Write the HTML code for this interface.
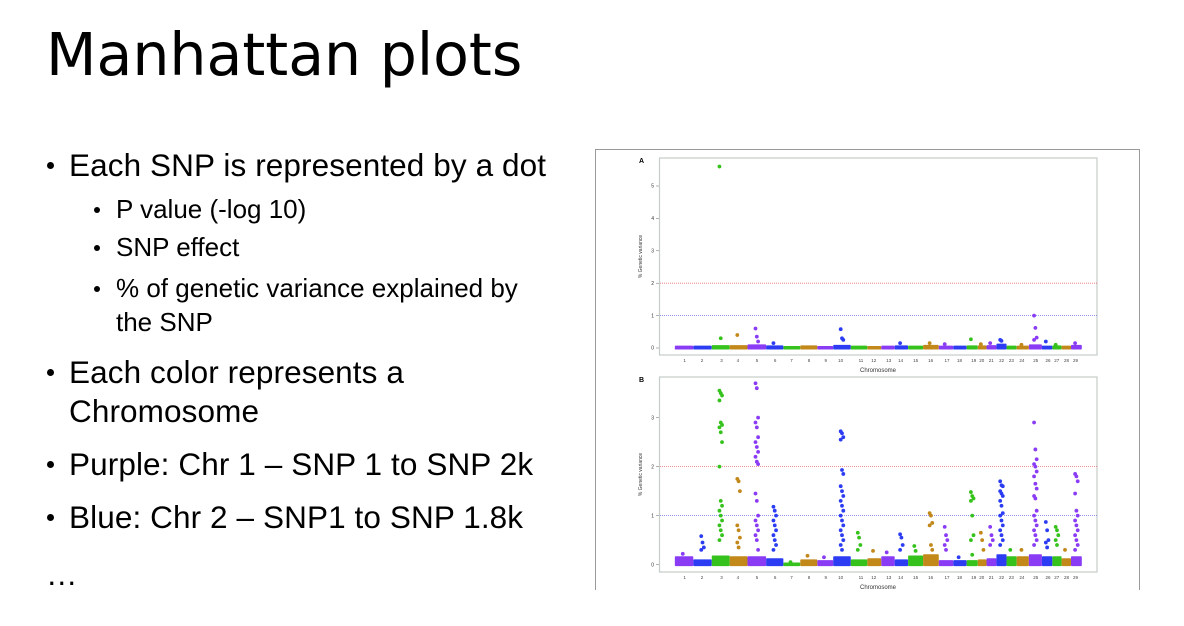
<!DOCTYPE html>
<html><head><meta charset="utf-8">
<style>
body{margin:0;width:1184px;height:626px;background:#fff;position:relative;overflow:hidden;font-family:"Liberation Sans",sans-serif;color:#000}
.t{position:absolute;white-space:nowrap}
#title{left:46px;top:21px;font-family:"DejaVu Sans",sans-serif;font-size:58.5px}
.b1{font-size:31.5px;left:69px;letter-spacing:0.1px}
.b2{font-size:26px;left:116px}
.d1{position:absolute;width:7px;height:7px;border-radius:50%;background:#000}
.d2{position:absolute;width:6px;height:6px;border-radius:50%;background:#000}
svg{position:absolute;left:0;top:0}
</style></head><body>
<div id="title" class="t">Manhattan plots</div>
<div class="d1" style="left:47px;top:162px"></div>
<div class="t b1" style="top:147px">Each SNP is represented by a dot</div>
<div class="d2" style="left:94px;top:207px"></div>
<div class="t b2" style="top:194px">P value (-log 10)</div>
<div class="d2" style="left:94px;top:245px"></div>
<div class="t b2" style="top:232px">SNP effect</div>
<div class="d2" style="left:94px;top:286px"></div>
<div class="t b2" style="top:273px">% of genetic variance explained by</div>
<div class="t b2" style="top:307px">the SNP</div>
<div class="d1" style="left:47px;top:369px"></div>
<div class="t b1" style="top:354px">Each color represents a</div>
<div class="t b1" style="top:393px">Chromosome</div>
<div class="d1" style="left:47px;top:461px"></div>
<div class="t b1" style="top:446px">Purple: Chr 1 – SNP 1 to SNP 2k</div>
<div class="d1" style="left:47px;top:514px"></div>
<div class="t b1" style="top:499px">Blue: Chr 2 – SNP1 to SNP 1.8k</div>
<div class="t b1" style="left:46px;top:556px">…</div>

<svg id="chart" width="1184" height="626"></svg>
<script>
const chromosomes=["1","2","3","4","5","6","7","8","9","10","11","12","13","14","15","16","17","18","19","20","21","22","23","24","25","26","27","28","29"];
const baseA=[0.07,0.07,0.09,0.09,0.12,0.08,0.06,0.08,0.06,0.1,0.07,0.06,0.07,0.08,0.07,0.1,0.07,0.07,0.08,0.08,0.09,0.15,0.07,0.07,0.12,0.07,0.08,0.07,0.1];
const peaksA=[[],[],[5.6,0.3],[0.4],[0.6,0.35,0.2],[0.15],[],[],[],[0.58,0.3,0.25],[],[],[],[0.15],[],[0.15],[0.12],[],[0.27],[0.12],[0.15],[0.25,0.22],[],[0.1],[1.0,0.62,0.32,0.25],[0.2],[0.1],[],[0.15]];
const baseB=[0.2,0.12,0.22,0.2,0.2,0.15,0.04,0.12,0.1,0.2,0.12,0.15,0.2,0.12,0.22,0.25,0.1,0.1,0.1,0.12,0.15,0.25,0.2,0.2,0.25,0.2,0.2,0.15,0.2];
const peaksB=[[0.22],[0.58,0.45,0.35,0.3],[3.55,3.5,3.45,3.35,2.9,2.85,2.8,2.7,2.5,2.0,1.3,1.2,1.1,1.0,0.9,0.8,0.7,0.6,0.5],[1.75,1.7,1.5,0.8,0.7,0.55,0.45,0.35],[3.7,3.6,3.0,2.9,2.8,2.6,2.5,2.4,2.3,2.2,2.1,2.05,1.45,1.3,1.0,0.9,0.8,0.7,0.6,0.5,0.3],[1.18,1.1,1.0,0.9,0.8,0.7,0.6,0.5,0.4,0.3],[0.05],[0.18],[0.15],[2.72,2.68,2.6,2.55,1.93,1.85,1.6,1.5,1.4,1.3,1.2,1.1,1.0,0.9,0.8,0.7,0.6,0.5,0.4,0.3],[0.65,0.55,0.4,0.3],[0.28],[0.25],[0.62,0.55,0.4,0.3],[0.38,0.28],[1.05,1.0,0.85,0.8,0.4,0.3],[0.77,0.6,0.5,0.4,0.3],[0.15],[1.48,1.4,1.35,1.3,1.0,0.6,0.5,0.2],[0.65,0.5,0.3],[0.77,0.6,0.5,0.4],[1.7,1.62,1.6,1.5,1.45,1.4,1.3,1.2,1.05,1.0,0.9,0.8,0.7,0.6,0.5,0.4],[0.3],[0.3],[2.9,2.35,2.15,2.05,2.0,1.9,1.8,1.65,1.55,1.4,1.35,1.1,1.0,0.9,0.8,0.7,0.6,0.5,0.4],[0.87,0.7,0.5,0.45,0.35],[0.77,0.7,0.6,0.5,0.4],[0.3],[1.85,1.8,1.7,1.45,1.1,1.0,0.9,0.8,0.7,0.6,0.5,0.4,0.3]];
const ticksA=[0,1,2,3,4,5];
const ticksB=[0,1,2,3];
const thresholds=[1,2];

const NS="http://www.w3.org/2000/svg";
const svg=document.getElementById('chart');
const colors=["#8a3cf5","#2b3cf2","#36c21c","#c2881a"];
const tickZ=[260,310,366,413,468,520,567,617,665,708,766,803,846,880,923,966,1013,1049,1090,1113,1140,1170,1198,1228,1268,1303,1328,1356,1382];
const centers=tickZ.map(z=>594+z/2.87);
const bounds=[594+232/2.87];
for(let i=0;i<centers.length-1;i++)bounds.push((centers[i]+centers[i+1])/2);
bounds.push(594+1400/2.87);
function el(tag,attrs,parent){const e=document.createElementNS(NS,tag);for(const k in attrs)e.setAttribute(k,attrs[k]);(parent||svg).appendChild(e);return e;}

const fr=el('path',{d:'M595.5,590 V149.5 H1139.5 V590',fill:'none',stroke:'#999','stroke-width':1});



function panel(label,top,bottom,y0,unit,ticks,base,peaks){
  const g=el('g',{});
  
  
  const y=v=>y0-v*unit;
  const box=el('rect',{x:659.5,y:top,width:437.5,height:bottom-top,fill:'none',stroke:'#c5cdc9','stroke-width':1.2},g);
  
  
  const lt=el('text',{x:639,y:top+5,'font-size':7,'font-weight':'bold','font-family':'Liberation Sans'},g);
  lt.textContent=label;
  
  
  ticks.forEach(t=>{
    const tx=el('text',{x:654,y:y(t)+1.7,'font-size':5,'text-anchor':'end',fill:'#333'},g);
    tx.textContent=t;
    
    
    el('line',{x1:656,x2:659,y1:y(t),y2:y(t),stroke:'#666','stroke-width':0.5},g);
  });
  const yl=el('text',{transform:`translate(642,${(top+bottom)/2}) rotate(-90)`,'font-size':5,'text-anchor':'middle',fill:'#333'},g);
  yl.textContent='% Genetic variance';
  
  
  thresholds.forEach(t=>{
    const l=el('line',{x1:660,x2:1097,y1:y(t),y2:y(t),stroke:t===2?'#f07070':'#7070f0','stroke-width':0.8,'stroke-dasharray':'1 1'},g);
    
    
  });
  chromosomes.forEach((c,i)=>{
    const col=colors[i%4];
    const x0=bounds[i],x1=bounds[i+1];
    const h=base[i]*unit*0.8+2;
    const b=el('rect',{x:x0,y:y0+1.5-h,width:x1-x0,height:h,fill:col,rx:0.8},g);
    
    
    peaks[i].forEach((v,j)=>{
      const cx=(x0+x1)/2+((j%3)-1)*1.3;
      const d=el('circle',{cx:cx,cy:y(v),r:1.9,fill:col},g);
      
      
    });
    const tl=el('text',{x:centers[i],y:bottom+7,'font-size':4.5,'text-anchor':'middle',fill:'#444'},g);
    tl.textContent=c;
    
    
  });
  const xl=el('text',{x:878,y:bottom+17,'font-size':6,'text-anchor':'middle',fill:'#333'},g);
  xl.textContent='Chromosome';
  
  
}
panel('A',158,355,348,32.4,ticksA,baseA,peaksA);
panel('B',377,572,564.6,49,ticksB,baseB,peaksB);
</script>
</body></html>
